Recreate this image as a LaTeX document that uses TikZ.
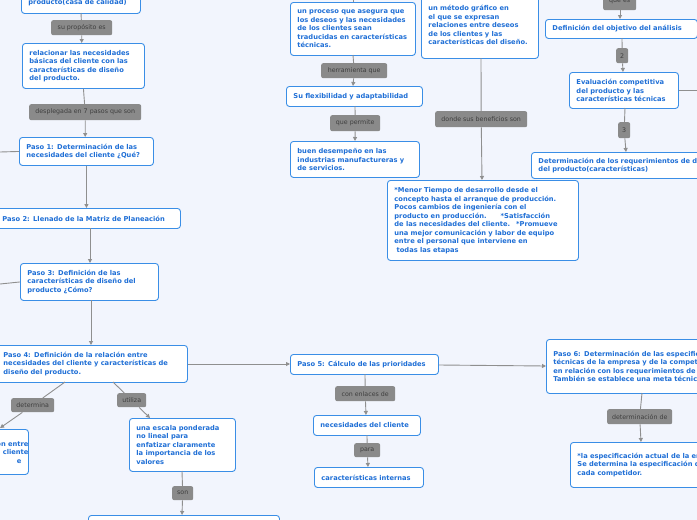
\documentclass[tikz,border=0pt]{standalone}
\usepackage{fontspec}
\setmainfont{DejaVu Sans}
\usetikzlibrary{arrows.meta}
\definecolor{bgc}{HTML}{F2F5FD}
\definecolor{bluet}{HTML}{1F6FD6}
\definecolor{blueb}{HTML}{3A8EE6}
\definecolor{lblc}{HTML}{8A8A8A}
\definecolor{lblt}{HTML}{3E3E3E}
\definecolor{linec}{HTML}{8F8F8F}
\newcommand{\nohyph}{\hyphenpenalty10000 \exhyphenpenalty10000 }
\tikzset{
 box/.style={draw=blueb,line width=0.9pt,fill=white,rounded corners=3pt,text=bluet,
   font={\bfseries\fontsize{6.7}{8.5}\selectfont\nohyph},align=left,inner xsep=7pt,inner ysep=2pt,anchor=north west},
 lbl/.style={fill=lblc,rounded corners=2pt,text=lblt,font={\fontsize{6.3}{7}\selectfont},inner sep=0pt,anchor=north west},
 con/.style={draw=linec,line width=0.9pt},
 arr/.style={con,-{Triangle[length=4pt,width=4pt]}}
}
\newcommand{\bx}[6]{\node[box,minimum width=#4pt-#2pt,minimum height=#5pt-#3pt,text width=#4pt-#2pt-14pt] (#1) at (#2pt,-#3pt) {#6};}
\newcommand{\lb}[6]{\node[lbl,minimum width=#4pt-#2pt,minimum height=#5pt-#3pt] (#1) at (#2pt,-#3pt) {#6};}
\begin{document}
\begin{tikzpicture}
\fill[bgc] (0,0) rectangle (697pt,-520pt);
\useasboundingbox (0,0) rectangle (697pt,-520pt);
\clip (0,0) rectangle (697pt,-520pt);
% left column
\bx{A}{21}{-12}{140}{13}{\mbox{}\\producto(casa de calidad)}
\lb{la}{51}{20}{112}{35}{su propósito es}
\bx{B}{22}{43}{144}{88}{relacionar las necesidades básicas del cliente con las características de diseño del producto.}
\lb{lbb}{29}{104}{141}{120}{desplegada en 7 pasos que son}
\bx{C}{19}{137}{153}{165}{Paso 1: Determinación de las necesidades del cliente ¿Qué?}
\bx{D}{-10}{208}{180}{228}{\hspace*{5pt}Paso 2: Llenado de la Matriz de Planeación}
\bx{E}{20}{263}{158}{300}{Paso 3: Definición de las características de diseño del producto ¿Cómo?}
\bx{F}{-10}{345}{187}{382}{\hspace*{6pt}Paso 4: Definición de la relación entre\\\hspace*{6pt}necesidades del cliente y características de\\\hspace*{6pt}diseño del producto.}
\lb{ld}{11}{398}{54}{412}{determina}
\node[box,minimum width=90pt,minimum height=45pt,text width=90pt,inner xsep=0pt,align=right] (G) at (-62pt,-429pt) {la relación entre\\el cliente\\e\hspace*{7pt}};
\lb{lu}{117}{393}{146}{407}{utiliza}
\bx{H}{129}{418}{235}{471}{una escala ponderada no lineal para enfatizar claramente la importancia de los valores}
\lb{ls}{172}{486}{193}{500}{son}
\bx{I}{88}{515}{279}{540}{}
\draw[arr] (81pt,-13pt) -- (la) -- (la.south |- B.north);
\draw[arr] (B.south) -- (lbb) -- (lbb.south |- C.north);
\draw[arr] (C.south) -- (C.south |- D.north);
\draw[arr] (90pt,-228pt) -- (90pt,-263pt);
\draw[arr] (91pt,-300pt) -- (91pt,-345pt);
\draw[con] (C.west) -- (0pt,-152pt);
\draw[con] (E.west) -- (0pt,-284pt);
\draw[arr] (65pt,-382pt) -- (ld) -- (0pt,-428pt);
\draw[arr] (113pt,-382pt) -- (lu) -- (150pt,-418pt);
\draw[arr] (182pt,-471pt) -- (ls) -- (182pt,-515pt);
% middle
\bx{P}{290}{2}{415}{55}{un proceso que asegura que los deseos y las necesidades de los clientes sean traducidas en características técnicas.}
\draw[con] (353pt,0) -- (353pt,-2pt);
\lb{lh}{321}{63}{387}{78}{herramienta que}
\bx{Q}{286}{86}{422}{106}{Su flexibilidad y adaptabilidad}
\lb{lq}{330}{115}{380}{131}{que permite}
\bx{R}{290}{141}{419}{177}{buen desempeño en las industrias manufactureras y de servicios.}
\draw[arr] (353pt,-55pt) -- (lh) -- (353pt,-86pt);
\draw[arr] (355pt,-106pt) -- (lq) -- (355pt,-141pt);
\bx{M}{421}{-12}{538}{58}{\mbox{}\\un método gráfico en el que se expresan relaciones entre deseos de los clientes y las características del diseño.}
\lb{lm}{435}{111}{527}{127}{donde sus beneficios son}
\bx{N}{387}{180}{578}{260}{*Menor Tiempo de desarrollo desde el\\*concepto hasta el arranque de producción.\\* Pocos cambios de ingeniería con el\\producto en producción.\hspace{14pt}*Satisfacción\\de las necesidades del cliente.\hspace{6pt}*Promueve\\una mejor comunicación y labor de equipo\\entre el personal que interviene en\\\ todas las etapas}
\draw[arr] (481pt,-58pt) -- (lm) -- (482pt,-180pt);
% Paso 5
\bx{S}{290}{354}{438}{374}{Paso 5: Cálculo de las prioridades}
\draw[arr] (F.east |- 0,-364pt) -- (S.west |- 0,-364pt);
\lb{lc}{335}{386}{395}{401}{con enlaces de}
\bx{T}{313}{415}{420}{435}{necesidades del cliente}
\lb{lp}{354}{443}{380}{457}{para}
\bx{U}{314}{467}{423}{487}{características internas}
\draw[arr] (365pt,-374pt) -- (lc) -- (366pt,-415pt);
\draw[arr] (367pt,-435pt) -- (lp) -- (368pt,-467pt);
% Paso 6
\bx{V}{546}{339}{745}{393}{Paso 6: Determinación de las especificaciones técnicas de la empresa y de la competencia en relación con los requerimientos de diseño. También se establece una meta técnica.}
\draw[arr] (S.east |- 0,-365pt) -- (V.west |- 0,-366pt);
\lb{lv}{607}{409}{672}{424}{determinación de}
\bx{W}{570}{442}{745}{487}{*la especificación actual de la empresa.\\Se determina la especificación que ofrece cada competidor.}
\draw[arr] (642pt,-393pt) -- (lv) -- (641pt,-442pt);
% right column
\lb{le}{603}{-7}{636}{10}{\raisebox{-3pt}{que es}}
\bx{X}{545}{19}{697}{38}{Definición del objetivo del análisis}
\lb{l2}{616}{48}{628}{63}{2}
\bx{Y}{569}{72}{678}{108}{Evaluación competitiva del producto y las características técnicas}
\lb{l3}{618}{122}{630}{138}{3}
\bx{Z}{531}{152}{730}{178}{Determinación de los requerimientos de diseño del producto(características)}
\draw[arr] (620pt,-10pt) -- (620pt,-19pt);
\draw[arr] (622pt,-38pt) -- (l2) -- (623pt,-72pt);
\draw[arr] (625pt,-108pt) -- (l3) -- (626pt,-152pt);
\draw[con] (Y.east |- 0,-90pt) -- (697pt,-90pt);
\end{tikzpicture}
\end{document}
